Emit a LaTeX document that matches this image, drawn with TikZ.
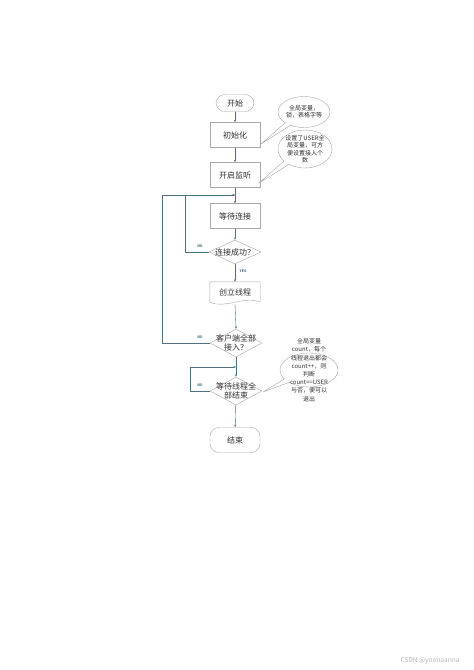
\documentclass[tikz,border=0pt]{standalone}
\usepackage{fontspec}
\newfontfamily\cjk{Noto Sans CJK SC}
\usetikzlibrary{shapes.geometric, shapes.callouts, arrows.meta}
\definecolor{linec}{HTML}{4F7282}
\definecolor{edgec}{HTML}{A8A8A8}
\definecolor{textc}{HTML}{303030}
\tikzset{
    box/.style={draw=edgec, rectangle, minimum width=50pt, minimum height=25pt, inner sep=0pt},
    term/.style={draw=edgec, rectangle, rounded corners=9pt, inner sep=0pt},
    doc/.style={rectangle, minimum width=50pt, minimum height=20pt, inner sep=0pt},
    dec/.style={draw=edgec, diamond, minimum width=52pt, minimum height=24pt, inner sep=0pt},
    note/.style={draw=gray!70, ellipse callout, inner sep=0pt},
    flow/.style={draw=linec, line width=0.4pt, -{Stealth[length=2.5pt, width=2pt]}},
    tag/.style={font=\cjk\fontsize{3.5}{4}\selectfont\bfseries, text=linec}
}
\begin{document}
\begin{tikzpicture}[x=1pt, y=-1pt, font=\cjk\fontsize{8}{10}\selectfont, text=textc]
            \fill[white] (0,0) rectangle (474,670);
            \useasboundingbox (0,0) rectangle (474,670);

            % main column
            \node[term, minimum width=38pt, minimum height=17pt] (start) at (235,103) {开始};
            \node[box] (init) at (235,135) {初始化};
            \node[box] (listen) at (235,175) {开启监听};
            \node[box] (wait) at (235,216) {等待连接};
            \node[dec, label=center:{连接成功？}] (ok) at (235,252) {};
            \node[doc] (thread) at (235,292) {创立线程};
            \node[dec, minimum height=28pt, label={[align=center]center:{客户端全部\\[-1pt]接入？}}] (all) at (236,343) {};
            \node[dec, minimum height=28pt, label={[align=center]center:{等待线程全\\[-1pt]部结束}}] (done) at (236,391) {};
            \node[term, minimum width=50pt, minimum height=25pt] (end) at (235,440) {结束};

            % document shape
            \draw[edgec] (thread.south west) -- (thread.north west) -- (thread.north east) -- (thread.south east)
                .. controls +(-16,-7) and +(16,7) .. (thread.south west);

            % notes
            \node[note, minimum width=52pt, minimum height=31pt, callout absolute pointer={(261,144)},
                label={[align=center, font=\cjk\fontsize{6}{7.5}\selectfont]center:{全局变量，\\锁，表格字等}}] (note1) at (304,112) {};
            \node[note, minimum width=54pt, minimum height=38pt, callout absolute pointer={(259,183)},
                label={[align=center, font=\cjk\fontsize{6}{7.5}\selectfont]center:{设置了USER全\\局变量，可方\\便设置接入个\\数}}] (note2) at (305,149) {};
            \node[note, minimum width=58pt, minimum height=34pt, callout absolute pointer={(263,392)},
                label={[align=center, font=\cjk\fontsize{6}{8.2}\selectfont]center:{全局变量\\count，每个\\线程退出都会\\count++，则\\判断\\count==USER\\与否，便可以\\退出}}] (note3) at (309,370) {};

            % junctions
            \coordinate (j1) at (235,195);
            \coordinate (j2) at (236,367);
            \coordinate (outer) at (162,195);
            \coordinate (inner) at (185,195);
            \coordinate (back) at (190,367);

            % flow
            \draw[flow] (start) -- (init);
            \draw[flow] (init) -- (listen);
            \draw[flow] (listen) -- (wait);
            \draw[flow] (wait) -- (ok);
            \draw[flow] (ok) -- (thread);
            \draw[flow] (thread.south) ++(0,2) -- (all.north);
            \draw[flow] (all) -- (done);
            \draw[flow] (done) -- (end);

            \draw[flow] (ok.west) -| (inner) -- (j1);
            \draw[flow] (all.west) -| (outer) -- (j1);
            \draw[flow] (done.west) -| (back) -- (j2);

            % labels
            \node[tag] (no1) at (200,246) {NO};
            \node[tag] (no2) at (200,337) {NO};
            \node[tag] (no3) at (200,385) {NO};
            \node[tag] (yes) at (243,271) {YES};

            \node[font=\cjk\fontsize{6.5}{8}\selectfont, text=gray!60] (mark) at (430,661) {CSDN @yoonaanna};
\end{tikzpicture}
\end{document}
